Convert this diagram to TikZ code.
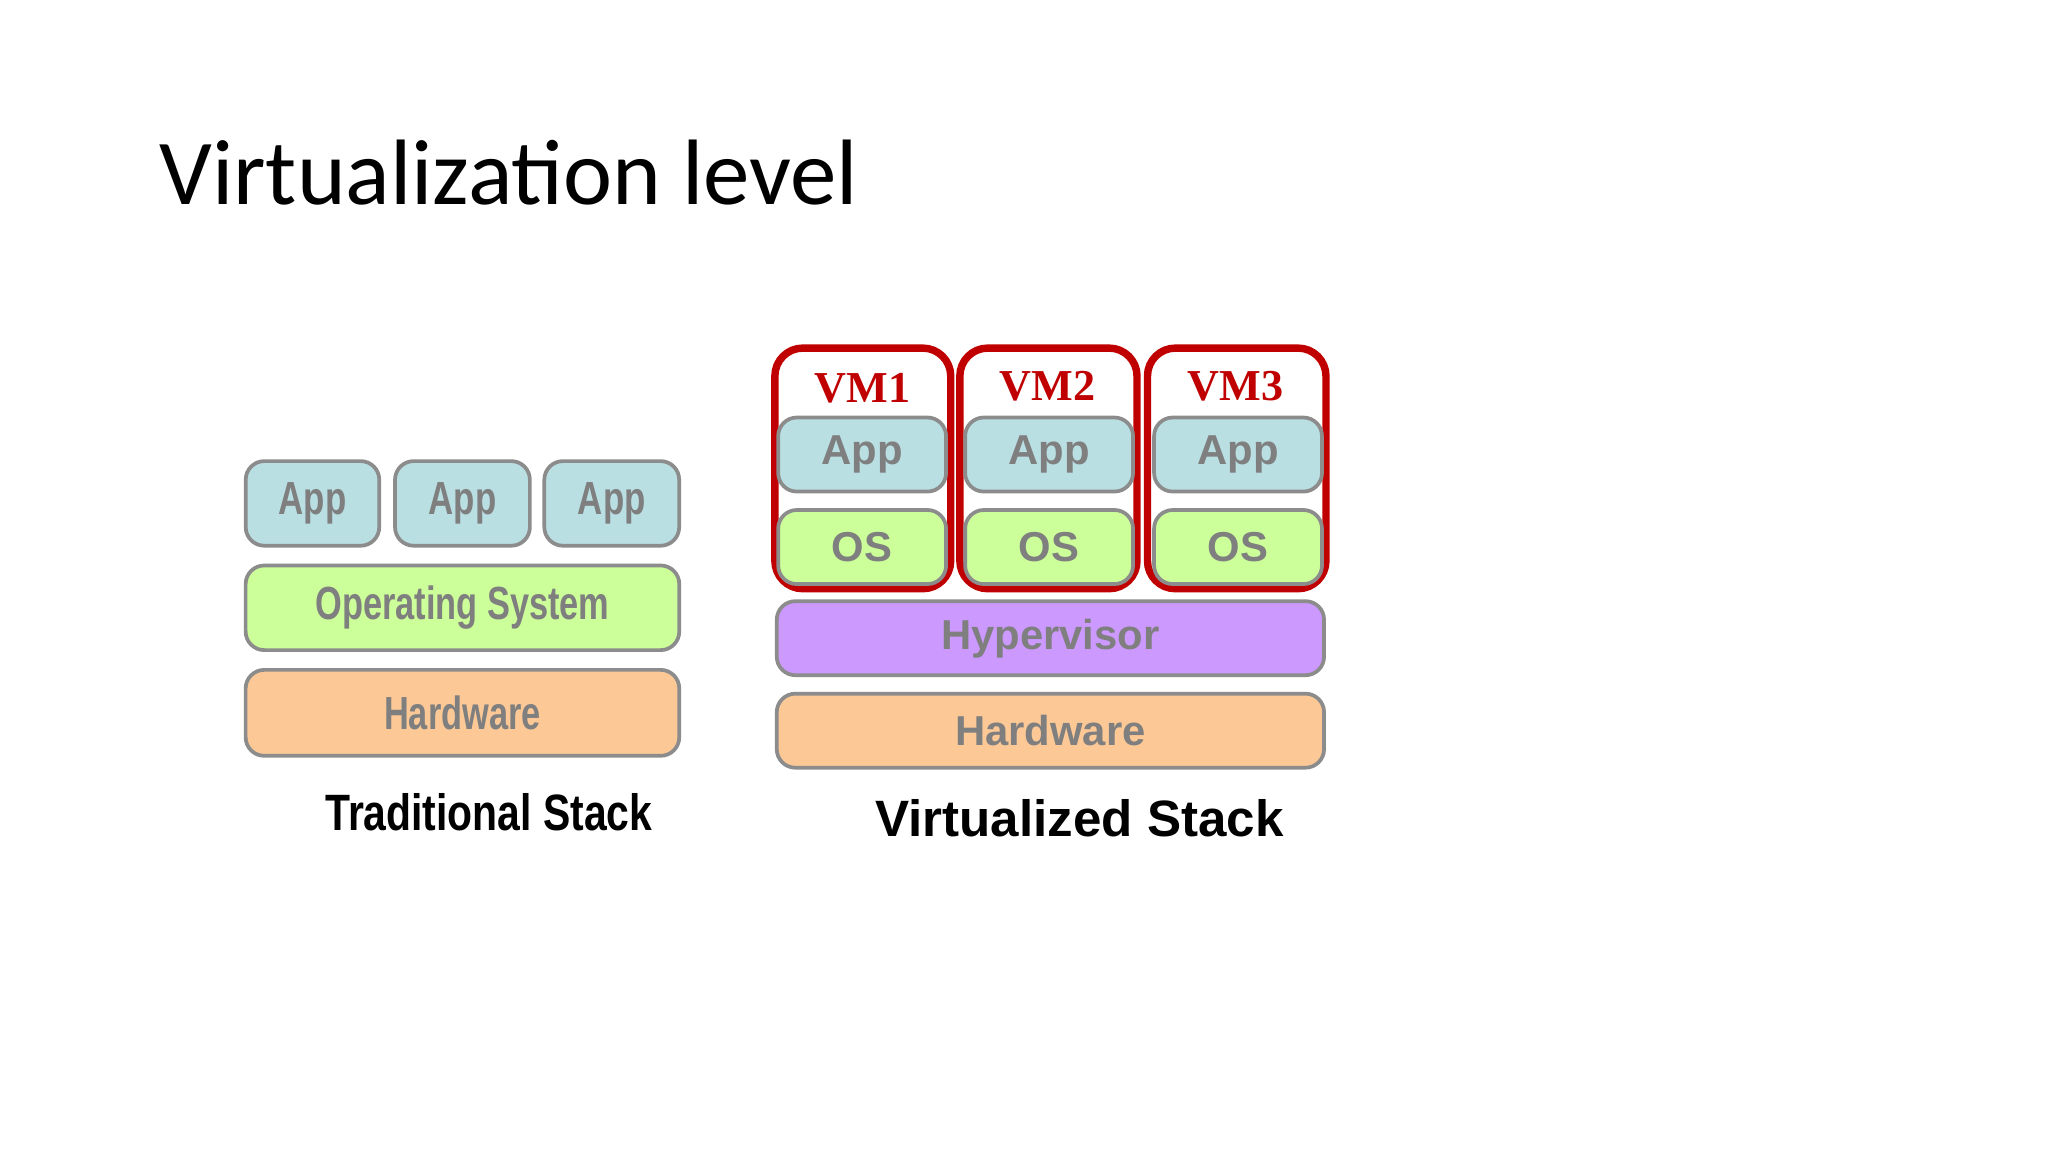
\documentclass[tikz,border=0pt]{standalone}
\usepackage{fontspec}
\setmainfont{Liberation Sans}
\newfontfamily\titlefont{Carlito}
\newfontfamily\vmfont{Liberation Serif}
\definecolor{appc}{HTML}{B9DFE3}
\definecolor{osc}{HTML}{CCFF99}
\definecolor{hwc}{HTML}{FCC896}
\definecolor{hypc}{HTML}{CC99FF}
\definecolor{edgec}{HTML}{8C8C8C}
\definecolor{txtc}{HTML}{7F7F7F}
\definecolor{vmred}{HTML}{C00000}
\newcommand{\narrow}[2]{\scalebox{#1}[1]{#2}}
\tikzset{
 box/.style={draw=edgec, line width=0.8pt, rounded corners=4pt, inner sep=0pt, text=txtc},
 lbox/.style={box, font=\fontsize{10}{10}\selectfont\bfseries},
 rbox/.style={box, font=\fontsize{9}{9}\selectfont\bfseries},
 vm/.style={draw=vmred, line width=1.6pt, rounded corners=6pt, inner sep=0pt},
 vmlab/.style={text=vmred, font=\vmfont\fontsize{9.5}{9.5}\selectfont\bfseries},
}
\begin{document}
\begin{tikzpicture}[x=0.01cm,y=-0.01cm]
\useasboundingbox[fill=white] (0,0) rectangle (1550,872);
\node[anchor=base west, inner sep=0pt, font=\titlefont\fontsize{20}{20}\selectfont] (title) at (120,155) {Virtualization level};
% traditional
\node[lbox, fill=appc, minimum width=1.01cm, minimum height=0.64cm] (a1) at (236.5,381) {\narrow{0.75}{App}};
\node[lbox, fill=appc, minimum width=1.02cm, minimum height=0.64cm] (a2) at (350,381) {\narrow{0.75}{App}};
\node[lbox, fill=appc, minimum width=1.02cm, minimum height=0.64cm] (a3) at (463,381) {\narrow{0.75}{App}};
\node[lbox, fill=osc, minimum width=3.28cm, minimum height=0.64cm] (os) at (350,460) {\narrow{0.74}{Operating System}};
\node[lbox, fill=hwc, minimum width=3.28cm, minimum height=0.65cm] (hw) at (350,539.5) {\narrow{0.74}{Hardware}};
\node[font=\fontsize{11}{11}\selectfont\bfseries, inner sep=0pt] (tl) at (370,615) {\narrow{0.8}{Traditional Stack}};
% virtualized
\node[vm, minimum width=1.33cm, minimum height=1.82cm] (vm1) at (653,354.5) {};
\node[vm, minimum width=1.34cm, minimum height=1.82cm] (vm2) at (793.5,354.5) {};
\node[vm, minimum width=1.35cm, minimum height=1.82cm] (vm3) at (936,354.5) {};
\node[vmlab] (v1) at (653,294) {VM1};
\node[vmlab] (v2) at (793,292) {VM2};
\node[vmlab] (v3) at (935,292) {VM3};
\node[rbox, fill=appc, minimum width=1.27cm, minimum height=0.56cm] (b1) at (652.5,344) {App};
\node[rbox, fill=appc, minimum width=1.27cm, minimum height=0.56cm] (b2) at (794,344) {App};
\node[rbox, fill=appc, minimum width=1.27cm, minimum height=0.56cm] (b3) at (937,344) {App};
\node[rbox, fill=osc, minimum width=1.27cm, minimum height=0.56cm] (o1) at (652.5,414) {OS};
\node[rbox, fill=osc, minimum width=1.27cm, minimum height=0.56cm] (o2) at (794,414) {OS};
\node[rbox, fill=osc, minimum width=1.27cm, minimum height=0.56cm] (o3) at (937,414) {OS};
\node[rbox, fill=hypc, minimum width=4.14cm, minimum height=0.56cm] (hyp) at (795,483) {Hypervisor};
\node[rbox, fill=hwc, minimum width=4.14cm, minimum height=0.56cm] (hw2) at (795,553) {Hardware};
\node[font=\fontsize{11}{11}\selectfont\bfseries, inner sep=0pt] (vl) at (817,619) {Virtualized Stack};
\end{tikzpicture}
\end{document}
